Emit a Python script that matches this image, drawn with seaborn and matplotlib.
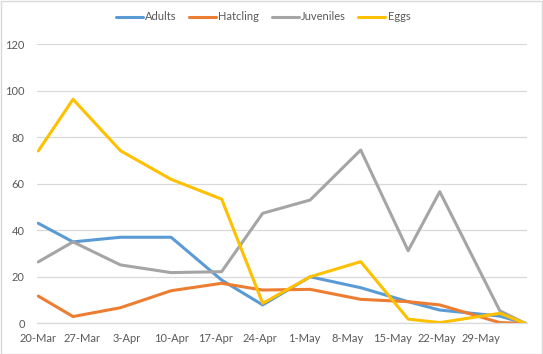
import matplotlib
matplotlib.use("Agg")
import matplotlib.pyplot as plt
import seaborn as sns
import pandas as pd
from matplotlib.patches import Rectangle

# days since 20-Mar for each observation
days = [0, 5.5, 13, 21, 29, 35.5, 43, 51, 58.5, 63.5, 73, 77]
adults = [43, 35, 37, 37, 18.6, 7.9, 20, 15.3, 9.3, 5.7, 3.1, 0]
hatcling = [11.7, 2.9, 6.7, 14, 17.2, 14.3, 14.6, 10.3, 9.3, 7.9, 0.3, 0]
juveniles = [26.4, 35, 25.1, 21.8, 22.2, 47.3, 53, 74.5, 31.2, 56.6, 5.4, 0]
eggs = [74.1, 96.3, 74.2, 61.9, 53.4, 8.6, 20, 26.5, 1.8, 0.3, 4.3, 0]

series_names = ["Adults", "Hatcling", "Juveniles", "Eggs"]
colors = ["#5B9BD5", "#ED7D31", "#A5A5A5", "#FFC000"]

tick_days = [0, 7, 14, 21, 28, 35, 42, 49, 56, 63, 70]
tick_labels = ["20-Mar", "27-Mar", "3-Apr", "10-Apr", "17-Apr", "24-Apr",
               "1-May", "8-May", "15-May", "22-May", "29-May"]
y_ticks = [0, 20, 40, 60, 80, 100, 120]

rows = []
for name, vals in zip(series_names, [adults, hatcling, juveniles, eggs]):
    for d, v in zip(days, vals):
        rows.append({"day": d, "value": v, "series": name})
df = pd.DataFrame(rows)

sns.set_style("white")
plt.rcParams["font.family"] = ["Lato", "DejaVu Sans"]

fig = plt.figure(figsize=(5.43, 3.54), dpi=100)
ax = fig.add_axes([37.3 / 543, 1 - 323.3 / 354, (527 - 37.3) / 543, (323.3 - 44.2) / 354])

sns.lineplot(data=df, x="day", y="value", hue="series", hue_order=series_names,
             palette=colors, linewidth=2.2, ax=ax, legend=False, sort=False,
             solid_capstyle="round", solid_joinstyle="round")

ax.set_xlim(-0.15, 77.3)
ax.set_ylim(0, 120)
ax.set_yticks(y_ticks)
ax.set_xticks(tick_days)
ax.set_xticklabels(tick_labels)
ax.set_xlabel("")
ax.set_ylabel("")
ax.grid(axis="y", color="#D9D9D9", linewidth=0.9)
ax.set_axisbelow(True)
for s in ["top", "right", "left"]:
    ax.spines[s].set_visible(False)
ax.spines["bottom"].set_color("#D9D9D9")
ax.spines["bottom"].set_linewidth(0.9)
ax.tick_params(axis="both", length=0, colors="#595959", labelsize=8)
ax.tick_params(axis="y", pad=9)
ax.tick_params(axis="x", pad=7)

handles = [plt.Line2D([0], [0], color=c, linewidth=2.2) for c in colors]
fig.legend(handles, series_names, loc="center", bbox_to_anchor=(263 / 543, 1 - 17 / 354),
           ncol=4, frameon=False, fontsize=8, labelcolor="#595959",
           handlelength=2.45, handletextpad=0.2, columnspacing=1.1)

fig.patches.append(Rectangle((0.5 / 543, 0.5 / 354), 1 - 1.5 / 543, 1 - 1.5 / 354,
                             transform=fig.transFigure, fill=False,
                             edgecolor="#D9D9D9", linewidth=1))

fig.savefig("out.png", dpi=100)
